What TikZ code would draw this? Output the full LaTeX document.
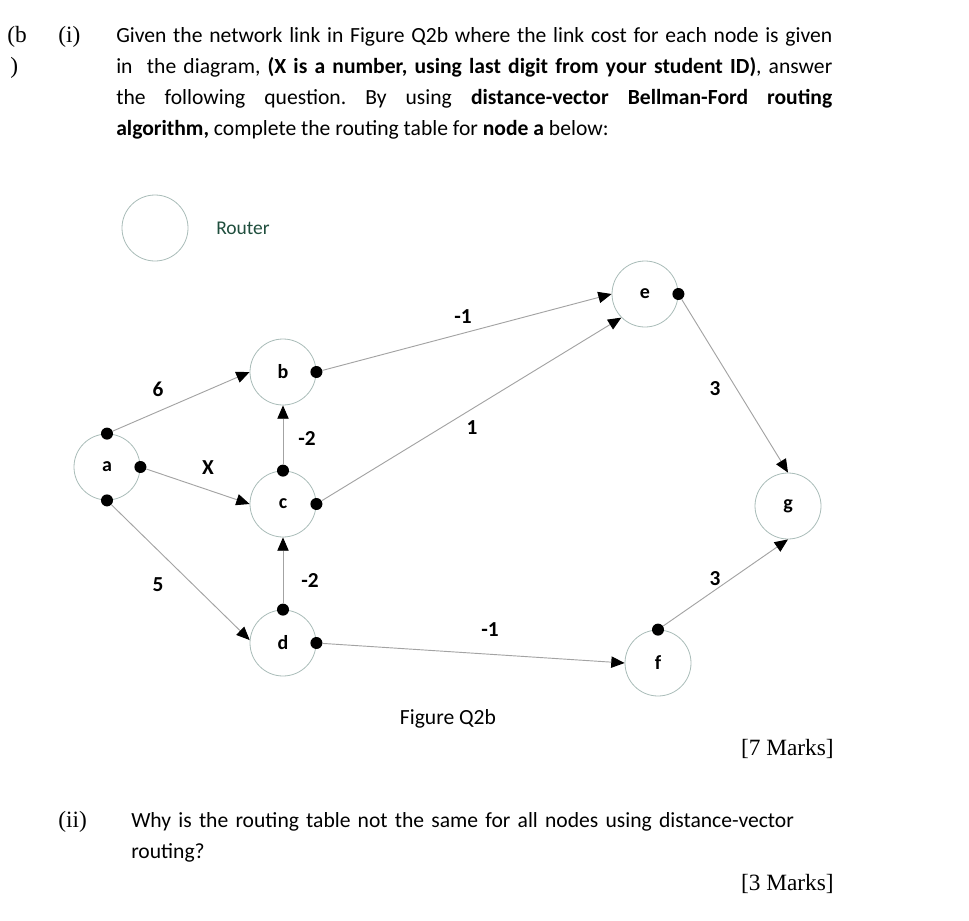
\documentclass[tikz,border=0pt]{standalone}
\usepackage{fontspec}
\setmainfont{Carlito}
\newfontfamily\examfont{Liberation Serif}
\usetikzlibrary{arrows.meta,positioning}
\frenchspacing

\definecolor{linkgray}{HTML}{A3A3A3}
\definecolor{routerline}{HTML}{A9BCB8}
\definecolor{routergreen}{HTML}{1F4E3D}

\tikzset{
  router/.style={circle, draw=routerline, line width=0.6pt, minimum size=49.5pt, inner sep=0pt,
    font=\fontsize{15}{17}\selectfont\bfseries},
  port/.style={circle, fill=black, inner sep=0pt, minimum size=9pt},
  link/.style={draw=linkgray, line width=0.7pt, -{Triangle[length=10pt, width=8.5pt, color=black]}},
  cost/.style={font=\fontsize{16}{18}\selectfont\bfseries, inner sep=0pt},
  body/.style={font=\fontsize{16.2}{23.25}\selectfont, inner sep=0pt},
  exam/.style={font=\examfont\fontsize{17.5}{20}\selectfont, inner sep=0pt}
}

\begin{document}
\begin{tikzpicture}[x=0.75pt, y=-0.75pt]
  \useasboundingbox (0,0) rectangle (969,920);
  % Question text
  \node[exam, anchor=base west] (partb) at (7,43) {(b};
  \node[exam, anchor=base west] (partbclose) at (10,74) {)};
  \node[exam, anchor=base west] (parti) at (58,43) {(i)};
  \node[body, anchor=base west, text width=537pt, align=justify] (question) at (116,43)
    {Given the network link in Figure Q2b where the link cost for each node is given\linebreak
     in\ \ the diagram, \textbf{(X is a number, using last digit from your student ID)}, answer\linebreak
     the following question. By using \textbf{distance-vector Bellman-Ford routing\linebreak
     algorithm,} complete the routing table for \textbf{node a} below:};
  % Legend
  \node[router] (legend) at (155,228) {};
  \node[anchor=west, inner sep=0pt, text=routergreen, font=\fontsize{14.6}{16}\selectfont] (legendtext) at (216,228) {Router};
  % Routers
  \node[router] (a) at (107,467) {a};
  \node[router] (b) at (283,372) {b};
  \node[router] (c) at (283,504) {c};
  \node[router] (d) at (283,643) {d};
  \node[router] (e) at (645,294) {e};
  \node[router] (f) at (658,663) {f};
  \node[router] (g) at (788,506) {g};
  % Ports
  \node[port] (aN) at (a.north) {};
  \node[port] (aE) at (a.east) {};
  \node[port] (aS) at (a.south) {};
  \node[port] (bE) at (b.east) {};
  \node[port] (cN) at (c.north) {};
  \node[port] (cE) at (c.east) {};
  \node[port] (dN) at (d.north) {};
  \node[port] (dE) at (d.east) {};
  \node[port] (eE) at (e.east) {};
  \node[port] (fN) at (f.north) {};
  % Links
  \draw[link] (aN) -- (b.west);
  \draw[link] (aE) -- (c.west);
  \draw[link] (aS) -- (d.175);
  \draw[link] (cN) -- (b.south);
  \draw[link] (dN) -- (c.south);
  \draw[link] (bE) -- (e.west);
  \draw[link] (cE) -- (e.225);
  \draw[link] (dE) -- (f.west);
  \draw[link] (eE) -- (g.north);
  \draw[link] (fN) -- (g.south);
  % Link costs
  \node[cost] (cab) at (158,389) {6};
  \node[cost] (cac) at (208,468) {X};
  \node[cost] (cad) at (158,585) {5};
  \node[cost] (ccb) at (307,438) {-2};
  \node[cost] (cdc) at (310,580) {-2};
  \node[cost] (cbe) at (463,317) {-1};
  \node[cost] (cce) at (472,428) {1};
  \node[cost] (cdf) at (490,630) {-1};
  \node[cost] (ceg) at (715,389) {3};
  \node[cost] (cfg) at (715,579) {3};
  % Caption and marks
  \node[body, anchor=base] (caption) at (448,724) {Figure Q2b};
  \node[exam, anchor=base east] (marksi) at (834,755) {[7 Marks]};
  \node[exam, anchor=base west] (partii) at (58,827) {(ii)};
  \node[body, anchor=base west, text width=530pt, align=left] (why) at (131,827)
    {Why is the routing table not the same for all nodes using distance-vector\\ routing?};
  \node[exam, anchor=base east] (marksii) at (834,890) {[3 Marks]};
\end{tikzpicture}
\end{document}
